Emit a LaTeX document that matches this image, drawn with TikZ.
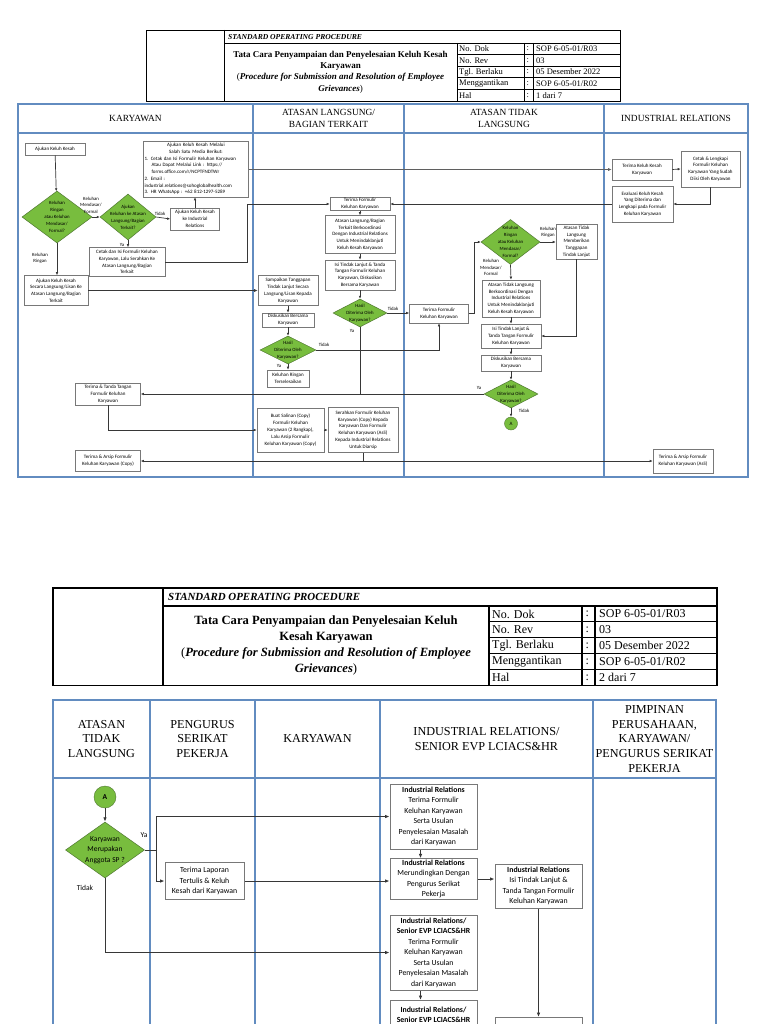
\documentclass[tikz,border=0pt]{standalone}
\usepackage{fontspec}
\setmainfont{Liberation Serif}
\newfontfamily\bxf{Carlito}
\usetikzlibrary{shapes.geometric,arrows.meta,calc}
\definecolor{laneblue}{RGB}{98,140,192}
\definecolor{dg}{RGB}{120,189,62}
\definecolor{dgb}{RGB}{80,120,50}
\definecolor{bxg}{RGB}{120,120,120}
\definecolor{lk}{RGB}{55,55,55}
\definecolor{thk}{RGB}{95,95,95}
\begin{document}
\begin{tikzpicture}[x=1pt,y=-1pt,
 bx/.style={draw=bxg, fill=white, line width=0.6pt, align=center, inner sep=0.5pt, font=\bxf\fontsize{5}{6.8}\selectfont},
 bxB/.style={draw=bxg, fill=white, line width=1pt, align=center, inner sep=1pt, font=\bxf\fontsize{7.8}{10.5}\selectfont},
 dm/.style={diamond, draw=dgb, fill=dg, inner sep=0pt, line width=0.5pt},
 dmt/.style={align=center, inner sep=0pt, font=\bxf\fontsize{4.8}{7}\selectfont},
 dmtB/.style={align=center, inner sep=0pt, font=\bxf\fontsize{7.5}{10.5}\selectfont},
 lbl/.style={align=center, inner sep=0.5pt, font=\bxf\fontsize{4.8}{6.5}\selectfont},
 lblB/.style={align=center, inner sep=0.5pt, font=\bxf\fontsize{7.5}{10}\selectfont},
 lane/.style={draw=laneblue, line width=1.8pt},
 lh/.style={align=center, font=\fontsize{9.4}{11.2}\selectfont},
 lhB/.style={align=center, font=\fontsize{12.2}{14.8}\selectfont},
 ar/.style={draw=lk, line width=0.7pt, -{Latex[length=3pt,width=2.6pt]}},
 ln/.style={draw=lk, line width=0.7pt},
 arT/.style={draw=thk, line width=1.4pt, -{Latex[length=3.5pt,width=3pt]}},
 arB/.style={draw=lk, line width=1pt, -{Latex[length=4.5pt,width=3.6pt]}},
 lnB/.style={draw=lk, line width=1pt},
 tb/.style={line width=0.8pt},
 tbB/.style={line width=1.1pt},
 tt/.style={anchor=west, inner sep=0pt, font=\fontsize{8.5}{10}\selectfont},
 ttB/.style={anchor=west, inner sep=0pt, font=\fontsize{12}{14}\selectfont},
]
\useasboundingbox[fill=white] (0,0) rectangle (768,1024);
\clip (0,0) rectangle (768,1024);

%================ PAGE 1 HEADER =================
\draw[tb] (146,30) rectangle (620,101);
\draw[tb] (224,30) -- (224,101);
\draw[tb] (224,43) -- (620,43);
\draw[tb] (457,43) -- (457,101);
\draw[tb] (524,43) -- (524,101);
\draw[tb] (533,43) -- (533,101);
\foreach \yy in {54.6,66.2,77.8,89.4} \draw[tb] (457,\yy) -- (620,\yy);
\node[anchor=west, inner sep=0pt, font=\fontsize{7.6}{9}\selectfont\bfseries\itshape] (h1s) at (228,36.8) {STANDARD OPERATING PROCEDURE};
\node[align=center, inner sep=0pt, font=\fontsize{9}{11.4}\selectfont] (h1t) at (340.5,72) {\textbf{Tata Cara Penyampaian dan Penyelesaian Keluh Kesah}\\\textbf{Karyawan}\\(\textbf{\textit{Procedure for Submission and Resolution of Employee}}\\\textbf{\textit{Grievances}})};
\node[tt] (r1a) at (459,48.8) {No. Dok};
\node[tt] (r2a) at (459,60.4) {No. Rev};
\node[tt] (r3a) at (459,72.0) {Tgl. Berlaku};
\node[tt] (r4a) at (459,83.6) {Menggantikan};
\node[tt] (r5a) at (459,95.2) {Hal};
\foreach \yy [count=\i] in {48.8,60.4,72.0,83.6,95.2} \node[tt] (r\i c) at (526.5,\yy) {:};
\node[tt] (r1b) at (536,48.8) {SOP 6-05-01/R03};
\node[tt] (r2b) at (536,60.4) {03};
\node[tt] (r3b) at (536,72.0) {05 Desember 2022};
\node[tt] (r4b) at (536,83.6) {SOP 6-05-01/R02};
\node[tt] (r5b) at (536,95.2) {1 dari 7};

%================ PAGE 1 LANES =================
\draw[lane] (18,104) rectangle (748,477);
\draw[lane] (18,133) -- (748,133);
\draw[lane] (253,104) -- (253,477);
\draw[lane] (404,104) -- (404,477);
\draw[lane] (604,104) -- (604,477);
\node[lh] (L1) at (135.5,118.5) {KARYAWAN};
\node[lh] (L2) at (328.5,118.5) {ATASAN LANGSUNG/\\BAGIAN TERKAIT};
\node[lh] (L3) at (504,118.5) {ATASAN TIDAK\\LANGSUNG};
\node[lh] (L4) at (676,118.5) {INDUSTRIAL RELATIONS};

%---- Karyawan lane
\node[bx, minimum width=60, minimum height=12] (n1) at (55,149) {Ajukan Keluh Kesah};
\node[dm, minimum width=70, minimum height=52] (d1) at (57,217) {};
\node[dmt] (d1t) at (d1) {Keluhan\\Ringan\\atau Keluhan\\Mendasar/\\Formal?};
\node[dm, minimum width=56, minimum height=46] (d2) at (128,217) {};
\node[dmt] (d2t) at (d2) {Ajukan\\Keluhan ke Atasan\\Langsung/Bagian\\Terkait?};
\node[bx, minimum width=49, minimum height=22] (n2) at (195,219) {Ajukan Keluh Kesah\\ke Industrial\\Relations};
\node[draw=bxg, fill=white, line width=0.6pt, inner sep=1pt, text width=103, minimum height=56, font=\bxf\fontsize{5}{6.75}\selectfont] (n3) at (196,169)
 {\centering Ajukan Keluh Kesah Melalui\\ Salah Satu Media Berikut:\par
  \raggedright 1. Cetak dan Isi Formulir Keluhan Karyawan\\ \hspace*{7pt}Atau Dapat Melalui Link : https://\\ \hspace*{7pt}forms.office.com/r/NCPTFNDTWr\\ 2. Email :\\ industrial.relations@sohoglobalhealth.com\\ 3. HR WhatsApp : +62 812-1297-5289\par};
\node[bx, minimum width=76, minimum height=29] (n4) at (127,262) {Cetak dan Isi Formulir Keluhan\\Karyawan, Lalu Serahkan Ke\\Atasan Langsung/Bagian\\Terkait};
\node[bx, minimum width=64, minimum height=30] (n5) at (56,290.5) {Ajukan Keluh Kesah\\Secara Langsung/Lisan Ke\\Atasan Langsung/Bagian\\Terkait};
\node[bx, minimum width=65, minimum height=22] (n6) at (108,394) {Terima \& Tanda Tangan\\Formulir Keluhan\\Karyawan};
\node[bx, minimum width=65, minimum height=21] (n7) at (108,461) {Terima \& Arsip Formulir\\Keluhan Karyawan (Copy)};
\node[lbl] (k1) at (91,205) {Keluhan\\Mendasar/\\Formal};
\node[lbl] (k2) at (40,258) {Keluhan\\Ringan};
\node[lbl] (k3) at (160,214) {Tidak};
\node[lbl] (k4) at (122,244.5) {Ya};

%---- Atasan Langsung lane
\node[bx, minimum width=60, minimum height=13] (m1) at (360,204) {Terima Formulir\\Keluhan Karyawan};
\node[bx, minimum width=70, minimum height=38] (m2) at (360,234.5) {Atasan Langsung/Bagian\\Terkait Berkoordinasi\\Dengan Industrial Relations\\Untuk Menindaklanjuti\\Keluh Kesah Karyawan};
\node[bx, minimum width=70, minimum height=30] (m3) at (360,275) {Isi Tindak Lanjut \& Tanda\\Tangan Formulir Keluhan\\Karyawan, Diskusikan\\Bersama Karyawan};
\node[dm, minimum width=54, minimum height=28] (md1) at (360,313) {};
\node[dmt] (md1t) at (md1) {Hasil\\Diterima Oleh\\Karyawan?};
\node[bx, minimum width=60, minimum height=30] (m4) at (288,290.5) {Sampaikan Tanggapan\\Tindak Lanjut Secara\\Langsung/Lisan Kepada\\Karyawan};
\node[bx, minimum width=52, minimum height=14] (m5) at (288,320) {Diskusikan Bersama\\Karyawan};
\node[dm, minimum width=56, minimum height=28] (md2) at (288,350) {};
\node[dmt] (md2t) at (md2) {Hasil\\Diterima Oleh\\Karyawan?};
\node[bx, minimum width=42, minimum height=17] (m6) at (288,378.5) {Keluhan Ringan\\Terselesaikan};
\node[bx, minimum width=67, minimum height=44] (m7) at (290.5,430) {Buat Salinan (Copy)\\Formulir Keluhan\\Karyawan (2 Rangkap),\\Lalu Arsip Formulir\\Keluhan Karyawan (Copy)};
\node[bx, minimum width=70, minimum height=45] (m8) at (363,430) {Serahkan Formulir Keluhan\\Karyawan (Copy) Kepada\\Karyawan Dan Formulir\\Keluhan Karyawan (Asli)\\Kepada Industrial Relations\\Untuk Diarsip};
\node[lbl] (k5) at (393,309) {Tidak};
\node[lbl] (k6) at (352,331) {Ya};
\node[lbl] (k7) at (324,345) {Tidak};
\node[lbl] (k8) at (279,366) {Ya};

%---- Atasan Tidak Langsung lane
\node[bx, minimum width=59, minimum height=19] (a1) at (439,313.5) {Terima Formulir\\Keluhan Karyawan};
\node[dm, minimum width=59, minimum height=45] (ad1) at (510.5,242) {};
\node[dmt] (ad1t) at (ad1) {Keluhan\\Ringan\\atau Keluhan\\Mendasar/\\Formal?};
\node[bx, minimum width=41, minimum height=35] (a2) at (576.5,241.5) {Atasan Tidak\\Langsung\\Memberikan\\Tanggapan\\Tindak Lanjut};
\node[bx, minimum width=58, minimum height=37] (a3) at (511,298.5) {Atasan Tidak Langsung\\Berkoordinasi Dengan\\Industrial Relations\\Untuk Menindaklanjuti\\Keluh Kesah Karyawan};
\node[bx, minimum width=60, minimum height=24] (a4) at (511,336) {Isi Tindak Lanjut \&\\Tanda Tangan Formulir\\Keluhan Karyawan};
\node[bx, minimum width=60, minimum height=16] (a5) at (511,363) {Diskusikan Bersama\\Karyawan};
\node[dm, minimum width=54, minimum height=28] (ad2) at (511,394) {};
\node[dmt] (ad2t) at (ad2) {Hasil\\Diterima Oleh\\Karyawan?};
\node[circle, draw=dgb, fill=dg, minimum size=13, inner sep=0pt, font=\bxf\fontsize{5}{6}\selectfont] (aA) at (511,423.5) {A};
\node[lbl] (k9) at (548,232) {Keluhan\\Ringan};
\node[lbl] (k10) at (491,267.5) {Keluhan\\Mendasar/\\Formal};
\node[lbl] (k11) at (479,388) {Ya};
\node[lbl] (k12) at (524,411) {Tidak};

%---- Industrial Relations lane
\node[bx, minimum width=60, minimum height=21] (i1) at (642,169.5) {Terima Keluh Kesah\\Karyawan};
\node[bx, minimum width=59, minimum height=36] (i2) at (710.5,169) {Cetak \& Lengkapi\\Formulir Keluhan\\Karyawan Yang Sudah\\Diisi Oleh Karyawan};
\node[bx, minimum width=61, minimum height=36] (i3) at (642.5,204) {Evaluasi Keluh Kesah\\Yang Diterima dan\\Lengkapi pada Formulir\\Keluhan Karyawan};
\node[bx, minimum width=60, minimum height=24] (i4) at (683,461) {Terima \& Arsip Formulir\\Keluhan Karyawan (Asli)};

%---- connectors page 1
\coordinate (c1) at (247,204);
\coordinate (c2) at (474,242);
\coordinate (c3) at (363,461);
\coordinate (c5) at (360,394);
\draw[ar] (n1) -- (d1);
\draw[ar] (d1.east) -- (d2.west);
\draw[ar] (d2.east) -- (n2.west);
\draw[ar] (n2.north) -- (n2.north |- n3.south);
\draw[ar] (d2.south) -- (d2.south |- n4.north);
\draw[ar] (d1.south) -- (d1.south |- n5.north);
\draw[arT] (n3.east |- i1.west) -- (i1.west);
\draw[ar] (n4.east) -| (c1) -- (m1.west);
\draw[ar] (i3.west) -- (m1.east);
\draw[ar] (i1.east) -- (i2.west);
\draw[ar] (i2.south) |- (i3.east);
\draw[ar] (m1) -- (m2);
\draw[ar] (m2) -- (m3);
\draw[ar] (m3) -- (md1);
\draw[ar] (md1.east) -- (md1.east -| a1.west);
\draw[ln] (md1.south) -- (c5);
\draw[ar] (ad2.west) -- (n6.east);
\draw[arT, draw=lk, line width=1pt] (n5.east) -- (m4.west);
\draw[ar] (m4) -- (m5);
\draw[ar] (m5) -- (md2);
\draw[ar] (md2) -- (m6);
\draw[ar] (md2.east) -| (a1.south);
\draw[ar] (a1.east) -| (c2) -- (ad1.west);
\draw[ar] (ad1.east) -- (ad1.east -| a2.west);
\draw[ar] (ad1.south) -- (a3.north);
\draw[ar] (a3) -- (a4);
\draw[ar] (a4) -- (a5);
\draw[ar] (a5) -- (ad2);
\draw[ar] (ad2) -- (aA);
\draw[ar] (a2.south) |- (a4.east);
\draw[ar] (n6.south) |- (m7.west);
\draw[ar] (m7) -- (m8);
\draw[ln] (m8.south) -- (c3);
\draw[ar] (c3) -- (n7.east);
\draw[ar] (c3) -- (i4.west);

%================ PAGE 2 HEADER =================
\draw[tbB] (53,588) rectangle (717,685.3);
\draw[tbB] (163,588) -- (163,685.3);
\draw[tbB] (163,606) -- (717,606);
\draw[tbB] (489,606) -- (489,685.3);
\draw[tbB] (582,606) -- (582,685.3);
\draw[tbB] (595,606) -- (595,685.3);
\foreach \yy in {621.9,637.8,653.6,669.5} \draw[tbB] (489,\yy) -- (717,\yy);
\node[anchor=west, inner sep=0pt, font=\fontsize{10.9}{12}\selectfont\bfseries\itshape] (h2s) at (168,597) {STANDARD OPERATING PROCEDURE};
\node[align=center, inner sep=0pt, font=\fontsize{12.6}{16}\selectfont] (h2t) at (326,645.5) {\textbf{Tata Cara Penyampaian dan Penyelesaian Keluh}\\\textbf{Kesah Karyawan}\\(\textbf{\textit{Procedure for Submission and Resolution of Employee}}\\\textbf{\textit{Grievances}})};
\node[ttB] (s1a) at (492,614) {No. Dok};
\node[ttB] (s2a) at (492,629.9) {No. Rev};
\node[ttB] (s3a) at (492,645.7) {Tgl. Berlaku};
\node[ttB] (s4a) at (492,661.5) {Menggantikan};
\node[ttB] (s5a) at (492,677.4) {Hal};
\foreach \yy [count=\i] in {614,629.9,645.7,661.5,677.4} \node[ttB] (s\i c) at (585.5,\yy) {:};
\node[ttB] (s1b) at (599,614) {SOP 6-05-01/R03};
\node[ttB] (s2b) at (599,629.9) {03};
\node[ttB] (s3b) at (599,645.7) {05 Desember 2022};
\node[ttB] (s4b) at (599,661.5) {SOP 6-05-01/R02};
\node[ttB] (s5b) at (599,677.4) {2 dari 7};

%================ PAGE 2 LANES =================
\draw[lane] (53,700) rectangle (716,1100);
\draw[lane] (53,778) -- (716,778);
\draw[lane] (150,700) -- (150,1100);
\draw[lane] (255,700) -- (255,1100);
\draw[lane] (380,700) -- (380,1100);
\draw[lane] (593,700) -- (593,1100);
\node[lhB] (P1) at (101.5,739) {ATASAN\\TIDAK\\LANGSUNG};
\node[lhB] (P2) at (202.5,739) {PENGURUS\\SERIKAT\\PEKERJA};
\node[lhB] (P3) at (317.5,739) {KARYAWAN};
\node[lhB] (P4) at (486.5,739) {INDUSTRIAL RELATIONS/\\SENIOR EVP LCIACS\&HR};
\node[lhB] (P5) at (654.5,739) {PIMPINAN\\PERUSAHAAN,\\KARYAWAN/\\PENGURUS SERIKAT\\PEKERJA};

\node[circle, draw=dgb, fill=dg, minimum size=22, inner sep=0pt, font=\bxf\bfseries\fontsize{7.5}{9}\selectfont] (A2) at (105,797) {A};
\node[dm, minimum width=79, minimum height=56] (pd) at (105,850) {};
\node[dmtB] (pdt) at (pd) {Karyawan\\Merupakan\\Anggota SP ?};
\node[bxB, minimum width=79, minimum height=37] (p1) at (204.5,881) {Terima Laporan\\Tertulis \& Keluh\\Kesah dari Karyawan};
\node[bxB, minimum width=87, minimum height=65] (q1) at (433.5,816.5) {\textbf{Industrial Relations}\\Terima Formulir\\Keluhan Karyawan\\Serta Usulan\\Penyelesaian Masalah\\dari Karyawan};
\node[bxB, minimum width=87, minimum height=36] (q2) at (433.5,879) {\textbf{Industrial Relations}\\Merundingkan Dengan\\Pengurus Serikat\\Pekerja};
\node[bxB, minimum width=87, minimum height=75] (q3) at (433.5,952.5) {\textbf{Industrial Relations/}\\\textbf{Senior EVP LCIACS\&HR}\\Terima Formulir\\Keluhan Karyawan\\Serta Usulan\\Penyelesaian Masalah\\dari Karyawan};
\node[bxB, minimum width=87, minimum height=44] (q4) at (538.5,886) {\textbf{Industrial Relations}\\Isi Tindak Lanjut \&\\Tanda Tangan Formulir\\Keluhan Karyawan};
\node[bxB, minimum width=87, minimum height=70, anchor=north, align=center] (q5) at (433.5,1000) {\textbf{Industrial Relations/}\\\textbf{Senior EVP LCIACS\&HR}\\\mbox{}\\\mbox{}\\\mbox{}\\\mbox{}};
\node[bxB, minimum width=87, minimum height=50, anchor=north] (q6) at (538.5,1017) {};
\node[lblB] (t1) at (144,835) {Ya};
\node[lblB] (t2) at (85,888) {Tidak};

\coordinate (c4) at (156,850);
\draw[arB] (A2) -- (pd);
\draw[lnB] (pd.east) -- (c4);
\draw[arB] (c4) |- (q1.west);
\draw[arB] (c4) |- (p1.west);
\draw[arB] (p1.east) -- (p1.east -| q2.west);
\draw[arB] (pd.south) |- (q3.west);
\draw[arB] ([xshift=-13pt]q1.south) -- ([xshift=-13pt]q2.north);
\draw[arB] (q2.east) -- (q2.east -| q4.west);
\draw[arB] ([xshift=-13pt]q3.south) -- ([xshift=-13pt]q5.north);
\draw[arB, line width=1.5pt] (q4.south) -- (q6.north);
\end{tikzpicture}
\end{document}
